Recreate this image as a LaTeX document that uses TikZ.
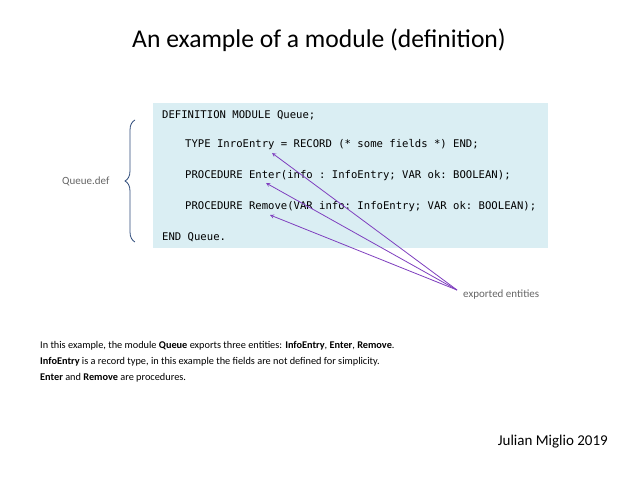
\documentclass[tikz,border=0pt]{standalone}
\usepackage{fontspec}
\setmainfont{Carlito}
\setmonofont{DejaVu Sans Mono}
\usetikzlibrary{decorations.pathreplacing}
\definecolor{codebg}{HTML}{DAEEF3}
\definecolor{arr}{HTML}{7F3FBF}
\definecolor{brace}{HTML}{2E4A7A}
\begin{document}
\begin{tikzpicture}[x=1pt,y=-1pt,
  code/.style={anchor=west,inner sep=0pt,font=\fontsize{10.6}{12}\ttfamily},
  body/.style={anchor=west,inner sep=0pt,font=\fontsize{10.3}{12}\selectfont},
  note/.style={anchor=west,inner sep=0pt,text=gray!80!black,font=\fontsize{11}{13}\selectfont},
  pointer/.style={draw=arr,thick,-stealth}]
\useasboundingbox (0,0) rectangle (638,478);
\fill[white] (0,0) rectangle (638,478);
\node[inner sep=0pt,font=\fontsize{25.6}{30}\selectfont] (title) at (319,40) {An example of a module (definition)};
\fill[codebg] (153,103) rectangle (548,248);
\node[code] (l1) at (162,115) {DEFINITION MODULE Queue;};
\node[code] (l2) at (185,145) {TYPE InroEntry = RECORD (* some fields *) END;};
\node[code] (l3) at (185,176) {PROCEDURE Enter(info : InfoEntry; VAR ok: BOOLEAN);};
\node[code] (l4) at (185,207) {PROCEDURE Remove(VAR info: InfoEntry; VAR ok: BOOLEAN);};
\node[code] (l5) at (162,237) {END Queue.};
\draw[brace,thick,decorate,decoration={brace,amplitude=10pt}] (135,242) -- (135,120);
\node[note] (qd) at (62,181) {Queue.def};
\node[note] (ex) at (463,295) {exported entities};
\coordinate (src) at (457,290);
\coordinate (t1) at (272,153);
\coordinate (t2) at (266,183);
\coordinate (t3) at (270,215);
\draw[pointer] (src) -- (t1);
\draw[pointer] (src) -- (t2);
\draw[pointer] (src) -- (t3);
\node[body] (b1) at (40,346) {In this example, the module \textbf{Queue} exports three entities: \textbf{InfoEntry}, \textbf{Enter}, \textbf{Remove}.};
\node[body] (b2) at (40,362) {\textbf{InfoEntry} is a record type, in this example the fields are not defined for simplicity.};
\node[body] (b3) at (40,378) {\textbf{Enter} and \textbf{Remove} are procedures.};
\node[anchor=east,inner sep=0pt,font=\fontsize{15}{17}\selectfont] (auth) at (608,442) {Julian Miglio 2019};
\end{tikzpicture}
\end{document}
